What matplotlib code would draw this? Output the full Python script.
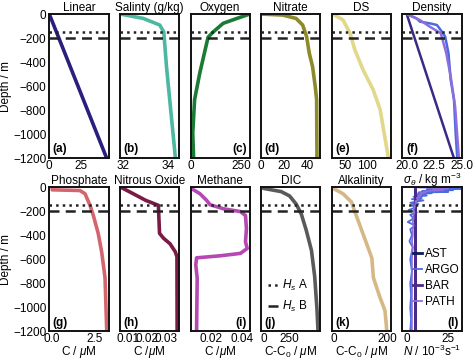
import matplotlib
matplotlib.use("Agg")
import matplotlib.pyplot as plt
import numpy as np

plt.rcParams['font.family'] = ['Liberation Sans', 'DejaVu Sans']
plt.rcParams['mathtext.fontset'] = 'custom'
plt.rcParams['mathtext.rm'] = 'Liberation Sans'
plt.rcParams['mathtext.it'] = 'Liberation Sans:italic'
plt.rcParams['mathtext.bf'] = 'Liberation Sans:bold'
plt.rcParams['font.size'] = 8.5

# profiles (depth in m, negative downwards)
lin_z = [0, -1200]
lin_v = [0, 45]

sal_z = [0, -36, -91, -149, -436, -1200]
sal_v = [31.88, 32.89, 33.63, 33.81, 33.93, 34.33]

oxy_z = [0, -36, -77, -149, -193, -494, -712, -987, -1200]
oxy_v = [290, 228, 160, 111, 86, 45, 20, 11, 15]

no3_z = [0, -8, -36, -91, -188, -326, -436, -602, -712, -1200]
no3_v = [0.5, 18.5, 30, 35.7, 39.1, 41.4, 44.2, 46.5, 47.7, 48]

ds_z = [0, -50, -160, -298, -465, -630, -795, -1200]
ds_v = [23, 46, 62, 73, 92, 115, 131, 150]

rho_bar_z = [0, -1200]
rho_bar_v = [20.0, 24.3]
rho_argo_z = [0, -36, -63, -77, -91, -146, -188, -326, -547, -712, -987, -1200]
rho_argo_v = [20.0, 20.9, 21.2, 22.1, 22.75, 23.2, 23.5, 23.8, 24.0, 24.3, 24.45, 24.6]
rho_path_z = [0, -8, -50, -105, -160, -326, -520, -767, -1200]
rho_path_v = [20.0, 20.2, 21.2, 22.1, 23.1, 23.6, 24.0, 24.4, 24.75]

po4_z = [0, -22, -28, -55, -151, -233, -384, -537, -754, -1200]
po4_v = [0.0, 0.0, 1.62, 1.92, 2.21, 2.40, 2.69, 2.89, 3.09, 3.19]

n2o_z = [0, -55, -110, -151, -384, -425, -471, -537, -578, -1200]
n2o_v = [0.0062, 0.0128, 0.0193, 0.0259, 0.0265, 0.0286, 0.032, 0.0347, 0.0356, 0.0357]

ch4_z = [0, -20, -55, -110, -146, -180, -203, -236, -345, -455, -510, -551, -571, -588, -648, -757, -1200]
ch4_v = [0.0075, 0.0085, 0.0129, 0.0172, 0.0194, 0.028, 0.0389, 0.0422, 0.0428, 0.0422, 0.0433,
         0.0389, 0.0259, 0.0107, 0.0102, 0.0111, 0.0107]

dic_z = [0, -10, -37, -73, -142, -224, -361, -526, -745, -1019, -1200]
dic_v = [0, 0, 170, 250, 314, 362, 410, 459, 490, 512, 522]

alk_z = [0, -14, -55, -124, -206, -397, -589, -753, -918, -1027, -1200]
alk_v = [0, 0, 34, 66, 79, 111, 143, 149, 174, 193, 200]

n_z = [0, -5, -10, -15, -20, -25, -30, -35, -40, -45, -50, -60, -70, -80, -90, -100, -110, -120,
       -130, -140, -150, -170, -190, -210, -230, -260, -290, -320, -350, -400, -450, -500, -600,
       -700, -800, -900, -1000, -1100, -1200]
n_argo = [4, 32, 20, 33, 12, 28, 18, 9, 25, 7, 15, 5, 12, 4, 9, 3, 10, 6, 2, 7, 3, 5, 1, 6, 2, 4,
          0.5, 5, 2, 3, 1.5, 3.5, 2, 3, 2, 2.5, 2, 2.5, 2]
n_path = [4, 18, 25, 20, 16, 22, 14, 12, 10, 11, 8, 9, 7, 8, 6, 7, 6, 5, 6, 5, 5, 4.5, 4, 4.5, 4,
          4, 3.5, 4, 3.5, 3.5, 3, 3.5, 3, 3, 3, 3, 3, 3, 3]
n_const_z = [0, -1200]
n_const_v = [4.6, 4.6]

hs_a = -150
hs_b = -200

fig, axes = plt.subplots(2, 6, figsize=(4.74, 3.61), dpi=100)
fig.subplots_adjust(left=0.104, right=0.974, top=0.961, bottom=0.082, wspace=0.19, hspace=0.2)

panels = [
    ('Linear', [(lin_v, lin_z, '#2a1f7d')], (0, 46.5), [0, 25], None),
    ('Salinty (g/kg)', [(sal_v, sal_z, '#4cb8a2')], (31.85, 34.5), [32, 34], None),
    ('Oxygen', [(oxy_v, oxy_z, '#1c7a35')], (0, 291), [0, 250], None),
    ('Nitrate', [(no3_v, no3_z, '#8c8a2a')], (0, 51), [0, 20, 40], None),
    ('DS', [(ds_v, ds_z, '#e2d88a')], (20, 156), [50, 100], None),
    ('Density', [(rho_bar_v, rho_bar_z, '#3a2a86'), (rho_argo_v, rho_argo_z, '#4a6ae0'),
                 (rho_path_v, rho_path_z, '#8e6ddc')], (19.6, 25.0), [20.0, 22.5, 25.0],
     r'$\sigma_\theta$ / kg m$^{-3}$'),
    ('Phosphate', [(po4_v, po4_z, '#d4656f')], (-0.17, 3.3), [0.0, 2.5], r'C / $\mu$M'),
    ('Nitrous Oxide', [(n2o_v, n2o_z, '#7a1a45')], (0.0058, 0.0368), [0.01, 0.02, 0.03], r'C /$\mu$M'),
    ('Methane', [(ch4_v, ch4_z, '#b548b3')], (0.0068, 0.045), [0.02, 0.04], r'C /$\mu$M'),
    ('DIC', [(dic_v, dic_z, '#5a5a5a')], (-22, 545), [0, 250], r'C-C$_0$ / $\mu$M'),
    ('Alkalinity', [(alk_v, alk_z, '#d6b887')], (-9, 216), [0, 200], r'C-C$_0$ / $\mu$M'),
    (None, None, (-2.8, 33.2), [0, 25], r'$N$ / 10$^{-3}$s$^{-1}$'),
]
letters = 'abcdefghijkl'
right_lbl = {'c', 'i', 'l'}
ticklabels = {
    'h': ['0.01', '0.02', '0.03'],
    'i': ['0.02', '0.04'],
    'f': ['20.0', '22.5', '25.0'],
    'g': ['0.0', '2.5'],
}

for i, ax in enumerate(axes.flat):
    title, lines, xl, xt, xlab = panels[i]
    let = letters[i]
    if let == 'l':
        ax.plot(n_const_v, n_const_z, color='#0a1a5c', lw=2, label='AST')
        ax.plot(n_argo, n_z, color='#4a6ae0', lw=1.3, label='ARGO')
        ax.plot(n_const_v, n_const_z, color='#4b2a8a', lw=2, label='BAR')
        ax.plot(n_path, n_z, color='#8e6ddc', lw=1.3, label='PATH')
        ax.legend(loc='lower left', bbox_to_anchor=(0.08, 0.12), frameon=False,
                  handlelength=0.8, handletextpad=0.2, labelspacing=0.35, borderpad=0,
                  fontsize=8.5)
    else:
        for v, z, c in lines:
            lw = 1.8 if let == 'f' else 2.6
            ax.plot(v, z, color=c, lw=lw, solid_capstyle='butt')
    ax.axhline(hs_a, color='#222222', lw=1.8, ls=':', label=r'$H_s$ A')
    ax.axhline(hs_b, color='#222222', lw=1.8, ls='--', dashes=(4, 2.5), label=r'$H_s$ B')
    if let == 'j':
        h, lab = ax.get_legend_handles_labels()
        ax.legend(h[-2:], lab[-2:], loc='lower left', bbox_to_anchor=(0.02, 0.08),
                  frameon=False, handlelength=1.0, handletextpad=0.2, labelspacing=0.5,
                  borderpad=0, fontsize=8.5)
    ax.set_ylim(-1200, 0)
    ax.set_xlim(*xl)
    ax.set_xticks(xt)
    if let in ticklabels:
        ax.set_xticklabels(ticklabels[let])
    if title:
        ax.set_title(title, fontsize=8.5, pad=2)
    if xlab:
        ax.set_xlabel(xlab, fontsize=8.5, labelpad=-0.5)
    if let in ('a', 'g'):
        ax.set_yticks([0, -200, -400, -600, -800, -1000, -1200])
        ax.set_yticklabels(['0', '\u2212200', '\u2212400', '\u2212600', '\u2212800',
                            '\u22121000', '\u22121200'])
        ax.set_ylabel('Depth / m', fontsize=8.5, labelpad=1)
    else:
        ax.set_yticks([])
    ax.tick_params(axis='x', length=0, pad=1, labelsize=8.5)
    ax.tick_params(axis='y', length=0, pad=2, labelsize=8.5)
    for s in ax.spines.values():
        s.set_linewidth(1.4)
        s.set_color('#111111')
    if let in right_lbl:
        ax.text(0.95, 0.02, '(%s)' % let, transform=ax.transAxes, ha='right', va='bottom',
                fontweight='bold', fontsize=8.5)
    else:
        ax.text(0.06, 0.02, '(%s)' % let, transform=ax.transAxes, ha='left', va='bottom',
                fontweight='bold', fontsize=8.5)

fig.savefig('out.png', dpi=100)
